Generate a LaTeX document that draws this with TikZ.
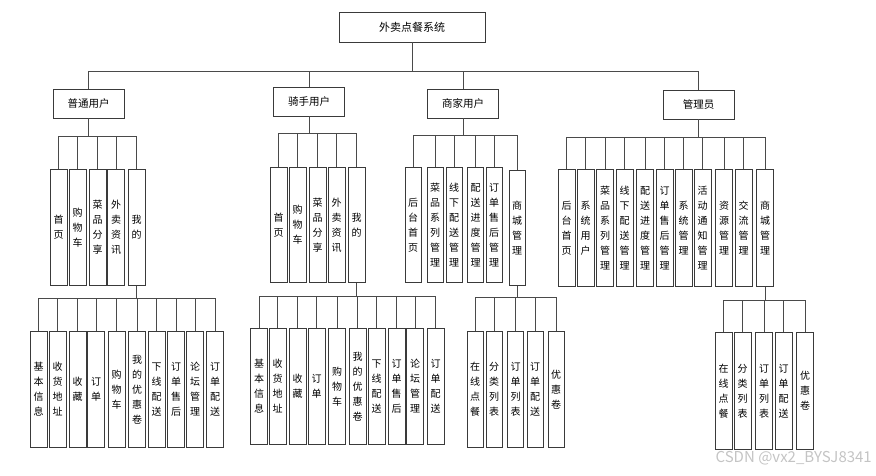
\documentclass[tikz,border=0pt]{standalone}
\usepackage{fontspec}
\usepackage{xcolor}
\usepackage{tikz}
\usetikzlibrary{positioning}
\newfontfamily\cjk{Noto Sans CJK SC}
\definecolor{boxborder}{HTML}{3a3a3a}
\definecolor{linkcol}{HTML}{4a4a4a}
\definecolor{markfg}{HTML}{c4c4c4}
\tikzstyle{topbox} = [rectangle, draw=boxborder, fill=white, line width=0.9pt,
  font=\cjk\fontsize{11}{13}\selectfont, inner sep=0pt,
  minimum width=146pt, minimum height=30pt]
\tikzstyle{rolebox} = [rectangle, draw=boxborder, fill=white, line width=0.9pt,
  font=\cjk\fontsize{10.5}{13}\selectfont, inner sep=0pt,
  minimum width=71pt, minimum height=29pt]
\tikzstyle{vbox} = [rectangle, draw=boxborder, fill=white, line width=0.9pt,
  font=\cjk\fontsize{10}{15}\selectfont, align=center, inner sep=0pt,
  minimum width=17pt, minimum height=116pt, anchor=north]
\tikzstyle{link} = [color=linkcol, line width=0.9pt]

\begin{document}
\begin{tikzpicture}[x=1pt, y=-1pt]
  \useasboundingbox (0,0) rectangle (876,475);

  \node[topbox] (sys) at (412,27) {外卖点餐系统};

  \node[rolebox] (cust)  at (88.5,103.5) {普通用户};
  \node[rolebox] (rider) at (309,101.5)  {骑手用户};
  \node[rolebox] (shop)  at (463,103.5)  {商家用户};
  \node[rolebox] (admin) at (698.5,104.5) {管理员};

  % customer pages
  \node[vbox] (cu1) at (58.5,169)  {首\\页};
  \node[vbox] (cu2) at (77.5,169)  {购\\物\\车};
  \node[vbox] (cu3) at (97.5,169)  {菜\\品\\分\\享};
  \node[vbox] (cu4) at (116,169)   {外\\卖\\资\\讯};
  \node[vbox] (cu5) at (136.5,169) {我\\的};

  \node[vbox] (cm1)  at (38.5,331)  {基\\本\\信\\息};
  \node[vbox] (cm2)  at (57.5,331)  {收\\货\\地\\址};
  \node[vbox] (cm3)  at (77.5,331)  {收\\藏};
  \node[vbox] (cm4)  at (96,331)    {订\\单};
  \node[vbox] (cm5)  at (116.5,331) {购\\物\\车};
  \node[vbox] (cm6)  at (137,331)   {我\\的\\优\\惠\\卷};
  \node[vbox] (cm7)  at (156.5,331) {下\\线\\配\\送};
  \node[vbox] (cm8)  at (176,331)   {订\\单\\售\\后};
  \node[vbox] (cm9)  at (195,331)   {论\\坛\\管\\理};
  \node[vbox] (cm10) at (215,331)   {订\\单\\配\\送};

  % rider pages
  \node[vbox, minimum height=115pt] (ri1) at (278.5,167) {首\\页};
  \node[vbox, minimum height=115pt] (ri2) at (297.5,167) {购\\物\\车};
  \node[vbox, minimum height=115pt] (ri3) at (317.5,167) {菜\\品\\分\\享};
  \node[vbox, minimum height=115pt] (ri4) at (336.5,167) {外\\卖\\资\\讯};
  \node[vbox, minimum height=115pt] (ri5) at (356.5,167) {我\\的};

  \node[vbox] (rm1)  at (259,328)   {基\\本\\信\\息};
  \node[vbox] (rm2)  at (277.5,328) {收\\货\\地\\址};
  \node[vbox] (rm3)  at (297.5,328) {收\\藏};
  \node[vbox] (rm4)  at (316.5,328) {订\\单};
  \node[vbox] (rm5)  at (337,328)   {购\\物\\车};
  \node[vbox] (rm6)  at (357.5,328) {我\\的\\优\\惠\\卷};
  \node[vbox] (rm7)  at (376.5,328) {下\\线\\配\\送};
  \node[vbox] (rm8)  at (396.5,328) {订\\单\\售\\后};
  \node[vbox] (rm9)  at (415,328)   {论\\坛\\管\\理};
  \node[vbox] (rm10) at (435.5,328) {订\\单\\配\\送};

  % shop pages
  \node[vbox, minimum width=16pt, minimum height=115pt] (sh1) at (413,167)   {后\\台\\首\\页};
  \node[vbox, minimum width=16pt, minimum height=115pt] (sh2) at (435,167)   {菜\\品\\系\\列\\管\\理};
  \node[vbox, minimum width=16pt, minimum height=115pt] (sh3) at (454,167)   {线\\下\\配\\送\\管\\理};
  \node[vbox, minimum width=16pt, minimum height=115pt] (sh4) at (475.5,167) {配\\送\\进\\度\\管\\理};
  \node[vbox, minimum width=16pt, minimum height=115pt] (sh5) at (494,167)   {订\\单\\售\\后\\管\\理};
  \node[vbox, minimum width=16pt, minimum height=115pt] (sh6) at (517,170)   {商\\城\\管\\理};

  \node[vbox, minimum width=16pt] (sm1) at (475,331)   {在\\线\\点\\餐};
  \node[vbox, minimum width=16pt] (sm2) at (494,331)   {分\\类\\列\\表};
  \node[vbox, minimum width=16pt] (sm3) at (515.5,331) {订\\单\\列\\表};
  \node[vbox, minimum width=16pt] (sm4) at (535,331)   {订\\单\\配\\送};
  \node[vbox, minimum width=16pt] (sm5) at (556,331)   {优\\惠\\卷};

  % admin pages
  \node[vbox, minimum height=117pt] (ad1)  at (566.5,169) {后\\台\\首\\页};
  \node[vbox, minimum height=117pt] (ad2)  at (585.5,169) {系\\统\\用\\户};
  \node[vbox, minimum height=117pt] (ad3)  at (605,169)   {菜\\品\\系\\列\\管\\理};
  \node[vbox, minimum height=117pt] (ad4)  at (624.5,169) {线\\下\\配\\送\\管\\理};
  \node[vbox, minimum height=117pt] (ad5)  at (645,169)   {配\\送\\进\\度\\管\\理};
  \node[vbox, minimum height=117pt] (ad6)  at (664.5,169) {订\\单\\售\\后\\管\\理};
  \node[vbox, minimum height=117pt] (ad7)  at (683.5,169) {系\\统\\管\\理};
  \node[vbox, minimum height=117pt] (ad8)  at (702.5,169) {活\\动\\通\\知\\管\\理};
  \node[vbox, minimum height=117pt] (ad9)  at (724,169)   {资\\源\\管\\理};
  \node[vbox, minimum height=117pt] (ad10) at (743.5,169) {交\\流\\管\\理};
  \node[vbox, minimum height=117pt] (ad11) at (765,169)   {商\\城\\管\\理};

  \node[vbox, minimum height=117pt] (am1) at (723.5,332) {在\\线\\点\\餐};
  \node[vbox, minimum height=117pt] (am2) at (742.5,332) {分\\类\\列\\表};
  \node[vbox, minimum height=117pt] (am3) at (764,332)   {订\\单\\列\\表};
  \node[vbox, minimum height=117pt] (am4) at (783.5,332) {订\\单\\配\\送};
  \node[vbox, minimum height=117pt] (am5) at (805,332)   {优\\惠\\卷};

  \node[anchor=east, text=markfg, font=\cjk\fontsize{15}{16}\selectfont, inner sep=0pt]
    (mark) at (872,458) {CSDN @vx2\_BYSJ8341};

  % tree links
  \foreach \r in {cust,rider,shop,admin}
    \draw[link] (sys.south) -- ++(0,29) -| (\r.north);
  \foreach \n in {1,...,5}
    \draw[link] (cust.south) -- ++(0,18) -| (cu\n.north);
  \foreach \n in {1,...,10}
    \draw[link] (cu5.south) -- ++(0,13) -| (cm\n.north);
  \foreach \n in {1,...,5}
    \draw[link] (rider.south) -- ++(0,17) -| (ri\n.north);
  \foreach \n in {1,...,10}
    \draw[link] (ri5.south) -- ++(0,14) -| (rm\n.north);
  \foreach \n in {1,...,6}
    \draw[link] (shop.south) -- ++(0,17) -| (sh\n.north);
  \foreach \n in {1,...,5}
    \draw[link] (sh6.south) -- ++(0,12) -| (sm\n.north);
  \foreach \n in {1,...,11}
    \draw[link] (admin.south) -- ++(0,18) -| (ad\n.north);
  \foreach \n in {1,...,5}
    \draw[link] (ad11.south) -- ++(0,14) -| (am\n.north);

\end{tikzpicture}
\end{document}
